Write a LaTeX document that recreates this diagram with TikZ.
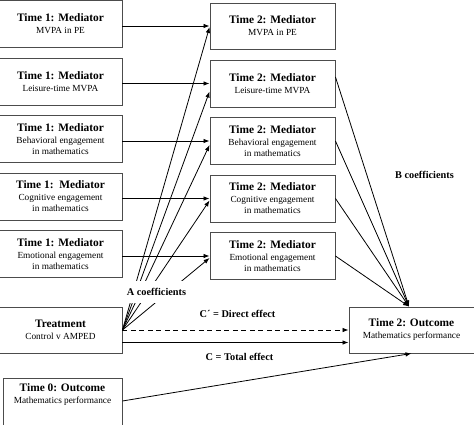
\documentclass[tikz,border=0pt]{standalone}
\usepackage{fontspec}
\setmainfont{Liberation Serif}
\usetikzlibrary{arrows.meta}

\newcommand{\boxtitle}[1]{{\fontsize{11.4}{12}\selectfont\bfseries #1}}

\begin{document}
\begin{tikzpicture}[
					x=1pt, y=1pt,
					node distance=57.5pt,
					box/.style={draw=black!70, line width=0.9pt, align=center, inner sep=1pt,
						minimum height=47pt, font=\fontsize{9.3}{11}\selectfont},
					leftbox/.style={box, minimum width=123pt},
					rightbox/.style={box, minimum width=125pt},
					coef/.style={font=\bfseries\fontsize{10.3}{12}\selectfont, inner sep=1pt},
					arr/.style={line width=0.8pt, -{Latex[length=6pt, width=4.5pt]}},
					plain/.style={line width=0.8pt}
					]
					\useasboundingbox (0,0) rectangle (474,-425);
					% Time 1 nodes
					\node [leftbox] at (60.5,-24) (T1PE) {\boxtitle{Time 1: Mediator}\\[1pt]MVPA in PE};
					\node [leftbox, below of=T1PE] (T1LT) {\boxtitle{Time 1: Mediator}\\[1pt]Leisure-time MVPA};
					\node [leftbox, below of=T1LT] (T1BE) {\boxtitle{Time 1: Mediator}\\[1pt]Behavioral engagement\\in mathematics};
					\node [leftbox, below of=T1BE] (T1CE) {\boxtitle{Time 1:\ \ Mediator}\\[1pt]Cognitive engagement\\in mathematics};
					\node [leftbox, below of=T1CE] (T1EE) {\boxtitle{Time 1: Mediator}\\[1pt]Emotional engagement\\in mathematics};
					\node [leftbox, minimum height=46pt] at (60.5,-330) (Trt) {\boxtitle{Treatment}\\[1pt]Control v AMPED};
					\node [box, minimum width=119pt, minimum height=0pt, inner ysep=5.5pt, text depth=40pt, anchor=north] at (62.5,-378) (T0) {\boxtitle{Time 0: Outcome}\\[1pt]Mathematics performance};
					
					% Time 2 nodes
					\node [rightbox, minimum height=46pt] at (272.5,-26) (T2PE) {\boxtitle{Time 2: Mediator}\\[1pt]MVPA in PE};
					\node [rightbox, below of=T2PE] (T2LT) {\boxtitle{Time 2: Mediator}\\[1pt]Leisure-time MVPA};
					\node [rightbox, below of=T2LT] (T2BE) {\boxtitle{Time 2: Mediator}\\[1pt]Behavioral engagement\\in mathematics};
					\node [rightbox, below of=T2BE] (T2CE) {\boxtitle{Time 2: Mediator}\\[1pt]Cognitive engagement\\in mathematics};
					\node [rightbox, below of=T2CE] (T2EE) {\boxtitle{Time 2: Mediator}\\[1pt]Emotional engagement\\in mathematics};
					\node [rightbox, minimum height=46pt] at (411.5,-330) (Out) {\boxtitle{Time 2: Outcome}\\[1pt]Mathematics performance};
					
					% Edges
					\draw [arr] (T2PE.west -| T1PE.east) -- (T2PE.west);
					\draw [arr] (T2LT.west -| T1LT.east) -- (T2LT.west);
					\draw [arr] (T2BE.west -| T1BE.east) -- (T2BE.west);
					\draw [arr] (T2CE.west -| T1CE.east) -- (T2CE.west);
					\draw [arr] (T2EE.west -| T1EE.east) -- (T2EE.west);
					\draw [arr] (Trt.east) -- ([yshift=-1pt]T2PE.west);
					\draw [arr] (Trt.east) -- ([yshift=-8pt]T2LT.west);
					\draw [arr] (Trt.east) -- ([yshift=-4pt]T2BE.west);
					\draw [arr] (Trt.east) -- ([yshift=-2pt]T2CE.west);
					\draw [arr] (Trt.east) -- ([yshift=-2pt]T2EE.west);
					\draw [arr] ([yshift=6.5pt]T2LT.east) -- ([xshift=-2.5pt]Out.north);
					\draw [arr] (T2BE.east) -- ([xshift=-2.5pt]Out.north);
					\draw [arr] (T2CE.east) -- ([xshift=-2.5pt]Out.north);
					\draw [arr] (T2EE.east) -- ([xshift=-2.5pt]Out.north);
					\draw [arr, dash pattern=on 5pt off 3.5pt] (Trt.east) -- (Out.west);
					\draw [arr] ([yshift=-12.5pt]Trt.east) -- ([yshift=-12.5pt]Out.west);
					\draw [arr] ([yshift=-23pt]T0.north east) -- (Out.south);
					
					% Coefficient labels
					\node [coef, fill=white, minimum height=22pt] at (156.5,-291.5) (Acoef) {A coefficients};
					\node [coef] at (424.5,-175) (Bcoef) {B coefficients};
					\node [coef] at (237.5,-314) (Direct) {C´ = Direct effect};
					\node [coef] at (239.5,-357) (Total) {C = Total effect};
				\end{tikzpicture}
\end{document}
